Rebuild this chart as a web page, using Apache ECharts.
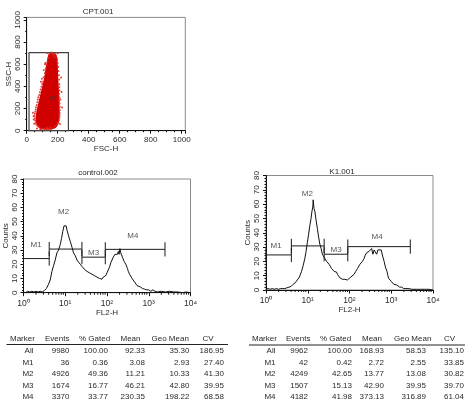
<!DOCTYPE html>
<html><head><meta charset="utf-8">
<script src="https://cdn.jsdelivr.net/npm/echarts@6/dist/echarts.min.js"></script>
<style>html,body{margin:0;padding:0;background:#fff}#c{width:474px;height:409px}</style>
</head><body><div id="c"></div>
<script>
// ---------- data ----------
const scatterTitle = 'CPT.001';
const controlTitle = 'control.002';
const k1Title = 'K1.001';

// dense core of the FSC/SSC cloud (outline, data units)
const blobCore = [[145,690],[165,700],[185,690],[193,660],[196,580],[198,490],[202,400],[204,330],[207,250],[208,180],[207,110],[200,60],[185,30],[160,18],[120,15],[90,22],[72,45],[62,90],[64,140],[70,190],[80,250],[90,310],[102,380],[114,450],[122,520],[130,590],[138,650]];
// sparse events round the edge of the cloud
const blobDots = [[150,700],[160,705],[172,698],[182,692],[145,683],[190,675],[168,688],[178,662],[140,657],[197,640],[135,622],[200,612],[128,592],[203,575],[122,560],[206,540],[118,522],[208,500],[110,482],[210,462],[105,442],[100,422],[211,420],[95,397],[210,392],[90,372],[212,362],[85,347],[209,332],[80,322],[75,302],[211,300],[72,282],[210,270],[68,257],[212,245],[65,232],[60,212],[213,215],[58,192],[214,185],[55,172],[213,160],[52,152],[212,140],[50,132],[211,120],[52,112],[208,95],[55,92],[204,75],[58,72],[196,55],[62,57],[185,40],[70,47],[150,30],[80,35],[130,25],[100,20],[115,18],[140,16],[95,14],[170,24],[120,10],[40,162],[45,102],[222,480],[225,350],[120,612],[110,545],[92,442],[132,702],[200,700],[218,282],[48,62],[66,20],[88,12],[155,12],[215,60],[44,130],[228,210],[118,600],[98,470]];
const gateRect = [[15, 0, 269, 705]];
const gateLabel = [[168, 292, 'R1']];

// FL2-H histograms: [FL2 channel value, counts]
const controlHist = [[1.00,0.5],[1.12,0],[1.26,1],[1.41,0.5],[1.58,1],[1.78,0.5],[2.00,1],[2.24,0.5],[2.51,1],[2.82,0.5],[3.16,1.5],[3.55,3],[3.98,6],[4.37,9],[4.79,15],[5.25,19],[5.75,23],[6.31,28],[6.92,30],[7.59,34],[8.13,38],[8.71,43],[9.33,47],[9.77,48],[10.0,46],[10.5,47],[11.0,44],[11.5,42],[12.0,40],[12.6,39],[13.2,36],[13.8,35],[14.5,32],[15.1,31],[15.8,28],[16.6,28.5],[17.4,26],[18.2,25],[19.1,23],[20.0,24],[20.9,21.5],[21.9,22],[22.9,20],[24.0,20.5],[25.1,18.5],[26.9,18],[28.8,16.5],[30.9,17],[33.1,15],[35.5,15.5],[38.0,14],[40.7,15],[43.7,13],[46.8,14],[50.1,12],[53.7,12.5],[57.5,11],[61.7,12],[66.1,10],[70.8,11],[75.9,9.5],[81.3,11],[87.1,10],[93.3,12],[100,14],[107,16],[115,18],[123,21],[132,23],[141,25],[148,24],[155,27],[162,26],[170,28],[178,27],[186,29],[195,27],[204,31],[214,28],[224,27],[234,25],[245,26],[257,22],[269,23],[282,20],[295,19],[309,17],[324,15],[347,13],[372,12],[398,10],[427,9],[457,7.5],[490,7],[525,5],[575,4.5],[631,4],[708,3],[794,2.5],[891,2],[1000,2],[1122,1],[1259,2],[1413,1],[1585,0.5],[1995,1],[2512,0.5],[3162,1],[3981,0.5],[5012,0.5],[6310,0],[7943,0.5],[10000,0]];
const k1Hist = [[1.00,0.5],[1.12,1],[1.26,0.5],[1.41,1],[1.58,0.5],[1.78,1],[2.00,0.5],[2.24,1],[2.51,1],[2.82,1],[3.16,1.5],[3.55,2],[3.98,2.5],[4.47,4],[5.01,5],[5.62,7],[6.31,9],[7.08,13],[7.76,17],[8.51,22],[9.12,27],[9.77,33],[10.5,39],[11.2,45],[12.0,50],[12.6,55],[13.2,58],[13.5,63],[14.1,57],[14.8,55],[15.8,49],[17.0,43],[18.2,37],[19.5,32],[20.9,29],[22.4,25],[23.4,25.5],[24.5,23],[25.7,22],[26.9,22.5],[28.2,20],[29.5,19],[30.9,19.5],[32.4,18],[33.9,17],[35.5,17.5],[37.2,15],[38.9,15.5],[40.7,14],[42.7,13],[44.7,13.5],[46.8,12],[49.0,12.5],[51.3,11],[53.7,10],[56.2,10],[58.9,8.5],[61.7,9],[64.6,8],[67.6,7.5],[70.8,8],[74.1,7],[77.6,7.5],[81.3,6.5],[85.1,7],[89.1,7],[93.3,7.5],[97.7,8],[107,9],[117,10],[129,11],[141,13],[148,12.5],[155,15],[162,15.5],[170,16],[178,18],[186,18],[195,19],[204,20],[214,21],[224,22],[235,24],[245,24],[257,26],[269,26],[282,27],[295,27],[316,28],[339,29],[363,25],[389,28],[417,29],[447,25],[479,28],[525,29],[575,28],[631,23],[676,20],[724,16],[794,12.8],[832,10],[871,8],[912,7.5],[955,7],[1000,6],[1047,5],[1148,4],[1202,4.5],[1259,3],[1349,3.5],[1413,3],[1585,2],[1778,2],[1995,1],[2239,1],[2512,1],[3162,0.5],[3981,0.5],[5012,0.5],[6310,0.5],[7943,0.5],[10000,0]];

// markers: [start, end, level]
const controlMarkers = [[1,4.13,24],[4.13,25.1,30.7],[25.1,91,25],[91,2450,30.5]];
const k1Markers = [[1,4.05,24.5],[4.05,24.7,30.8],[24.7,91,25],[91,2860,30.3]];
const controlMarkerLabels = [[2.0,34,'M1'],[9.1,57,'M2'],[47.9,28,'M3'],[417,40,'M4']];
const k1MarkerLabels = [[1.74,31,'M1'],[9.8,67.5,'M2'],[47.9,27.8,'M3'],[457,37.5,'M4']];

// statistics tables
const tableHeader = ['Marker','Events','% Gated','Mean','Geo Mean','CV'];
const controlTable = [
  ['All','9980','100.00','92.33','35.30','186.95'],
  ['M1','36','0.36','3.08','2.93','27.40'],
  ['M2','4926','49.36','11.21','10.33','41.30'],
  ['M3','1674','16.77','46.21','42.80','39.95'],
  ['M4','3370','33.77','230.35','198.22','68.58']
];
const k1Table = [
  ['All','9962','100.00','168.93','58.53','135.10'],
  ['M1','42','0.42','2.72','2.55','33.85'],
  ['M2','4249','42.65','13.77','13.08','30.82'],
  ['M3','1507','15.13','42.90','39.95','39.70'],
  ['M4','4182','41.98','373.13','316.89','61.04']
];

// ---------- chart ----------
const FONT = '"Liberation Sans", Arial, Helvetica, sans-serif';
const TXT = '#2a2a2a';
const sup = ['\u2070','\u00b9','\u00b2','\u00b3','\u2074'];
const logMinor = [];
for (let d = 0; d < 4; d++) for (let k = 2; k <= 9; k++) logMinor.push([k * Math.pow(10, d), 0]);

const chart = echarts.init(document.getElementById('c'), null, {renderer: 'canvas'});

const gridBase = {show: true, borderColor: '#8a8a8a', borderWidth: 1, backgroundColor: 'transparent', containLabel: false, outerBoundsMode: 'none'};
function linAxisX(grid, max, interval, name, gap) {
  return {gridIndex: grid, type: 'value', min: 0, max: max, interval: interval,
    name: name, nameLocation: 'middle', nameGap: gap,
    nameTextStyle: {fontSize: 8, color: TXT, fontFamily: FONT},
    axisLine: {show: true, onZero: false, lineStyle: {color: '#111', width: 1}},
    axisTick: {show: true, length: 3, lineStyle: {color: '#111'}},
    minorTick: {show: true, splitNumber: 4, length: 1.5, lineStyle: {color: '#111'}},
    splitLine: {show: false}, minorSplitLine: {show: false},
    axisLabel: {fontSize: 8, color: TXT, fontFamily: FONT, margin: 5,
      formatter: v => (v % interval === 0 ? String(v) : '')}};
}
function linAxisY(grid, max, interval, name, gap, minorSplit) {
  return {gridIndex: grid, type: 'value', min: 0, max: max, interval: interval,
    name: name, nameLocation: 'middle', nameGap: gap, nameRotate: 90,
    nameTextStyle: {fontSize: 8, color: TXT, fontFamily: FONT},
    axisLine: {show: true, onZero: false, lineStyle: {color: '#111', width: 1}},
    axisTick: {show: true, length: 3, lineStyle: {color: '#111'}},
    minorTick: {show: true, splitNumber: minorSplit, length: 1.5, lineStyle: {color: '#111'}},
    splitLine: {show: false}, minorSplitLine: {show: false},
    axisLabel: {fontSize: 8, color: TXT, fontFamily: FONT, rotate: 90, margin: 5,
      formatter: v => (v % interval === 0 ? String(v) : '')}};
}
function logAxisX(grid, name) {
  return {gridIndex: grid, type: 'log', logBase: 10, min: 1, max: 10000,
    name: name, nameLocation: 'middle', nameGap: 14,
    nameTextStyle: {fontSize: 8, color: TXT, fontFamily: FONT},
    axisLine: {show: true, onZero: false, lineStyle: {color: '#111', width: 1}},
    axisTick: {show: true, length: 3.5, lineStyle: {color: '#111'}},
    minorTick: {show: false}, splitLine: {show: false}, minorSplitLine: {show: false},
    axisLabel: {fontSize: 8.5, color: TXT, fontFamily: FONT, margin: 6,
      formatter: v => '10' + sup[Math.round(Math.log10(v))]}};
}

function coreRender(params, api) {
  if (params.dataIndex !== 0) return;
  return {type: 'polygon', shape: {points: blobCore.map(p => api.coord(p))},
    style: {fill: '#d10000', stroke: '#d10000', lineWidth: 1.5}};
}
function rectRender(params, api) {
  const a = api.coord([api.value(0), api.value(1)]);
  const b = api.coord([api.value(2), api.value(3)]);
  return {type: 'rect', shape: {x: a[0], y: b[1], width: b[0] - a[0], height: a[1] - b[1]},
    style: {fill: 'none', stroke: '#444', lineWidth: 1.2}};
}
function markerRender(params, api) {
  const x1 = api.value(0), x2 = api.value(1), y = api.value(2);
  const a = api.coord([x1, y]), b = api.coord([x2, y]);
  const t = api.coord([x1, y + 5])[1], bt = api.coord([x1, y - 5])[1];
  const st = {stroke: '#1a1a1a', lineWidth: 1};
  return {type: 'group', children: [
    {type: 'line', shape: {x1: a[0], y1: a[1], x2: b[0], y2: b[1]}, style: st},
    {type: 'line', shape: {x1: a[0], y1: t, x2: a[0], y2: bt}, style: st},
    {type: 'line', shape: {x1: b[0], y1: t, x2: b[0], y2: bt}, style: st}
  ]};
}
function minorRender(params, api) {
  const p = api.coord([api.value(0), 0]);
  return {type: 'line', shape: {x1: p[0], y1: p[1], x2: p[0], y2: p[1] + 2},
    style: {stroke: '#111', lineWidth: 1}};
}
function labelSeries(xi, data) {
  return {type: 'scatter', xAxisIndex: xi, yAxisIndex: xi, symbolSize: 0, silent: true,
    data: data, label: {show: true, position: 'inside', formatter: p => p.value[2],
      fontSize: 8, color: TXT, fontFamily: FONT}};
}
function histSeries(xi, data) {
  return {type: 'line', xAxisIndex: xi, yAxisIndex: xi, data: data, showSymbol: false,
    symbol: 'none', smooth: false, silent: true, lineStyle: {color: '#111', width: 1}};
}

// tables via graphic texts
const graphics = [];
function addText(x, y, text, align, size) {
  graphics.push({type: 'text', x: x, y: y, silent: true,
    style: {text: text, fill: TXT, font: (size || 8) + 'px ' + FONT,
      textAlign: align, align: align, textVerticalAlign: 'middle', verticalAlign: 'middle'}});
}
function addTable(rows, headLefts, valRights, headY, lineY, lineX1, lineX2, rowYs) {
  tableHeader.forEach((h, i) => addText(headLefts[i], headY, h, 'left'));
  graphics.push({type: 'line', silent: true, shape: {x1: lineX1, y1: lineY, x2: lineX2, y2: lineY},
    style: {stroke: '#222', lineWidth: 1}});
  rows.forEach((r, j) => r.forEach((c, i) => addText(valRights[i], rowYs[j], c, 'right')));
}
addTable(controlTable, [10, 45, 79, 120.5, 151.5, 202.5], [33.5, 69.5, 108, 145, 189.5, 224],
  339, 344.5, 6.5, 228, [350.5, 362.3, 373.8, 385.3, 397]);
addTable(k1Table, [252, 286, 320, 362, 394, 444], [275.5, 308, 352, 384, 426, 464],
  339, 345, 249, 465, [350.5, 362.3, 374, 385.3, 396.5]);
addText(98, 12, scatterTitle, 'center');
addText(98, 173, controlTitle, 'center');
addText(342, 171.5, k1Title, 'center');

const option = {
  backgroundColor: '#fff',
  animation: false,
  grid: [
    Object.assign({left: 26.7, top: 17.4, width: 158.6, height: 113.3}, gridBase),
    Object.assign({left: 23.5, top: 179, width: 167, height: 113.7}, gridBase),
    Object.assign({left: 266, top: 175.5, width: 167, height: 114.5}, gridBase)
  ],
  xAxis: [linAxisX(0, 1023, 200, 'FSC-H', 12), logAxisX(1, 'FL2-H'), logAxisX(2, 'FL2-H')],
  yAxis: [linAxisY(0, 1023, 200, 'SSC-H', 14, 2), linAxisY(1, 80, 10, 'Counts', 13, 5), linAxisY(2, 80, 10, 'Counts', 11, 5)],
  graphic: graphics,
  series: [
    {type: 'custom', xAxisIndex: 0, yAxisIndex: 0, data: [[0, 0]], renderItem: coreRender, silent: true},
    {type: 'scatter', xAxisIndex: 0, yAxisIndex: 0, data: blobDots, symbolSize: 2, silent: true,
      itemStyle: {color: '#e22a22', opacity: 0.9}},
    {type: 'custom', xAxisIndex: 0, yAxisIndex: 0, data: gateRect, renderItem: rectRender, silent: true,
      encode: {x: [0, 2], y: [1, 3]}},
    {type: 'scatter', xAxisIndex: 0, yAxisIndex: 0, symbolSize: 0, silent: true, data: gateLabel,
      label: {show: true, position: 'inside', formatter: p => p.value[2], fontSize: 6, color: '#333', fontFamily: FONT}},

    histSeries(1, controlHist),
    {type: 'custom', xAxisIndex: 1, yAxisIndex: 1, data: controlMarkers, renderItem: markerRender,
      encode: {x: [0, 1], y: 2}, silent: true},
    labelSeries(1, controlMarkerLabels),
    {type: 'custom', xAxisIndex: 1, yAxisIndex: 1, data: logMinor, renderItem: minorRender, silent: true, clip: false},

    histSeries(2, k1Hist),
    {type: 'custom', xAxisIndex: 2, yAxisIndex: 2, data: k1Markers, renderItem: markerRender,
      encode: {x: [0, 1], y: 2}, silent: true},
    labelSeries(2, k1MarkerLabels),
    {type: 'custom', xAxisIndex: 2, yAxisIndex: 2, data: logMinor, renderItem: minorRender, silent: true, clip: false}
  ]
};
chart.setOption(option);
</script></body></html>
